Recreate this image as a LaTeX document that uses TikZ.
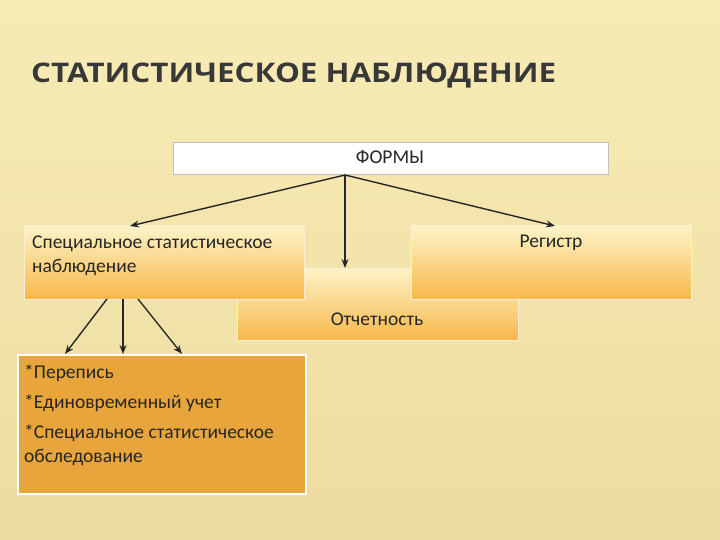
\documentclass[tikz,border=0pt]{standalone}
\usepackage{fontspec}
\setmainfont{Carlito}
\newfontfamily\titlefont{Open Sans}
\usetikzlibrary{arrows.meta,shadows}
\definecolor{bgtop}{HTML}{F7EBB5}
\definecolor{bgbot}{HTML}{EDDCA0}
\definecolor{boxtop}{HTML}{FDF3C8}
\definecolor{boxbot}{HTML}{F7B84A}
\definecolor{deep}{HTML}{E8A53C}
\tikzset{
  gbox/.style={draw=white!85!orange,line width=0.6pt,top color=boxtop,bottom color=boxbot,drop shadow={opacity=0.25,shadow xshift=1pt,shadow yshift=-1pt}},
  lbl/.style={font=\fontsize{19.5}{24}\selectfont,text=black!85,inner sep=0,anchor=north west,align=left},
  arr/.style={-{Stealth[length=9pt,width=7pt]},line width=1.4pt,black!85}
}
\begin{document}
\begin{tikzpicture}[x=1pt,y=-1pt]
\useasboundingbox (0,0) rectangle (720,540);
\shade[top color=bgtop,bottom color=bgbot] (0,0) rectangle (720,540);
\node[anchor=base west,inner sep=0,text=black!78,xscale=1.16,font=\titlefont\bfseries\fontsize{27}{30}\selectfont] (title) at (31,83) {СТАТИСТИЧЕСКОЕ НАБЛЮДЕНИЕ};
% boxes
\draw[gbox] (237,268) rectangle (518,340);
\coordinate (otc) at (345,268);
\node[lbl,anchor=center] (otl) at (377,319) {Отчетность};
\draw[gbox] (24,226) rectangle (304,299);
\node[lbl] (spl) at (32,236) {Специальное статистическое\\наблюдение};
\draw[gbox] (411,226) rectangle (691,299);
\node[lbl,anchor=center] (rgl) at (551,243) {Регистр};
\draw[draw=black!25,fill=white] (173,142) rectangle (608,174);
\node[lbl,anchor=center] (fm) at (390,157) {ФОРМЫ};
\draw[draw=white,line width=1.5pt,fill=deep] (18,355) rectangle (306,494);
\node[lbl] (lst) at (24,364) {*Перепись\\[6pt]*Единовременный учет\\[6pt]*Специальное статистическое\\обследование};
% arrows
\coordinate (top) at (345,175);
\coordinate (a1) at (130,226);
\coordinate (a3) at (555,226);
\draw[arr] (top) -- (a1);
\draw[arr] (top) -- (otc);
\draw[arr] (top) -- (a3);
\coordinate (s1) at (107,299); \coordinate (s2) at (123,299); \coordinate (s3) at (138,299);
\coordinate (e1) at (65,354); \coordinate (e2) at (123,354); \coordinate (e3) at (182,354);
\draw[arr] (s1) -- (e1);
\draw[arr] (s2) -- (e2);
\draw[arr] (s3) -- (e3);
\end{tikzpicture}
\end{document}
